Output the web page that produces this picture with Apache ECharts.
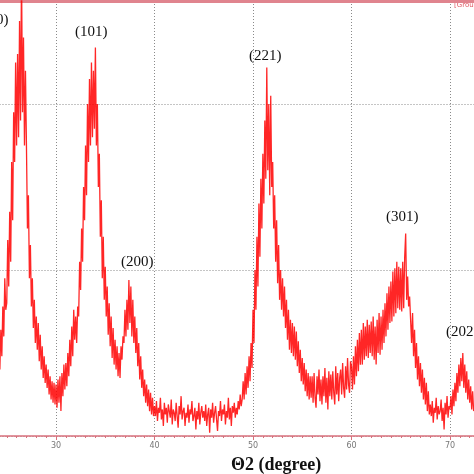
<!DOCTYPE html>
<html>
<head>
<meta charset="utf-8">
<script src="https://cdn.jsdelivr.net/npm/echarts/dist/echarts.min.js"></script>
<style>
  html, body { margin: 0; padding: 0; background: #fff; }
  #main { width: 474px; height: 474px; }
</style>
</head>
<body>
<div id="main"></div>
<script>
// 2-theta sampling of the scan (degrees)
var angleStart = 24.3;
var angleStep = 0.1;
var xTicks = [20, 30, 40, 50, 60, 70, 80];
var yTicks = [0, 1000, 2000];

// intensity, one row per degree
var intensity24to31 = [
  400, 640, 480, 780, 600, 950, 760,
  800, 1180, 900, 1350, 1050, 1650, 1300, 1950, 1650, 2250,
  1750, 2300, 1800, 2500, 1900, 2800, 1950, 2400, 1750, 2200,
  1750, 1250, 1450, 950, 1150, 780, 950, 650, 820, 560,
  720, 520, 680, 450, 610, 400, 540, 350, 480, 320,
  430, 290, 400, 250, 360, 220, 330, 200, 320, 190,
  310, 170, 340, 200, 360, 150, 380, 240, 430, 280,
  440, 300, 500, 360, 580, 420, 660, 480, 760, 580
];
var intensity32to39 = [
  720, 560, 780, 720, 1050, 880, 1250, 1050, 1500, 1300,
  1750, 1450, 2000, 1650, 2150, 1750, 2250, 1800, 2200, 1850,
  2340, 1750, 2000, 1500, 1700, 1200, 1420, 950, 1200, 820,
  1020, 720, 900, 610, 800, 540, 720, 470, 650, 430,
  580, 400, 540, 360, 500, 350, 540, 460, 600, 560,
  760, 600, 820, 640, 940, 680, 900, 600, 820, 560,
  720, 500, 650, 420, 560, 340, 480, 290, 400, 240,
  340, 200, 310, 180, 280, 150, 260, 130, 230, 120
];
var intensity40to48 = [
  180, 120, 210, 90, 170, 140, 230, 100, 160, 60,
  200, 130, 170, 80, 190, 150, 110, 220, 70, 160,
  140, 90, 200, 120, 50, 180, 130, 240, 100, 150,
  170, 60, 140, 110, 190, 80, 160, 130, 210, 90,
  120, 170, 40, 150, 100, 200, 70, 140, 180, 110,
  150, 90, 190, 60, 130, 170, 20, 160, 110, 200,
  80, 140, 180, 100, 30, 150, 120, 210, 90, 160,
  130, 190, 70, 150, 110, 230, 100, 170, 60, 180,
  140, 200, 110, 170, 130, 210, 160, 250, 180, 220
];
var intensity49to55 = [
  330, 220, 380, 250, 420, 290, 480, 330, 560, 410,
  760, 560, 1000, 760, 1200, 900, 1400, 1080, 1550, 1250,
  1700, 1400, 1900, 1550, 2220, 1600, 2000, 1450, 2050, 1500,
  1650, 1250, 1450, 1050, 1300, 920, 1150, 820, 1000, 760,
  950, 720, 900, 650, 820, 580, 760, 520, 700, 500,
  680, 480, 660, 460, 630, 420, 570, 380, 520, 330,
  470, 310, 440, 270, 400, 240, 380, 220, 360, 230
];
var intensity56to63 = [
  360, 200, 380, 230, 170, 360, 250, 400, 210, 340,
  190, 360, 240, 410, 200, 350, 160, 390, 240, 370,
  220, 390, 260, 190, 420, 250, 380, 210, 350, 400,
  250, 440, 290, 230, 420, 280, 470, 310, 260, 450,
  420, 280, 480, 310, 540, 360, 580, 390, 620, 430,
  640, 430, 680, 460, 660, 480, 700, 470, 670, 500,
  690, 480, 720, 460, 660, 430, 700, 500, 740, 490,
  720, 520, 760, 560, 800, 600, 860, 640, 900, 680
];
var intensity64to72 = [
  930, 690, 990, 720, 1010, 740, 1050, 770, 1020, 760,
  1010, 750, 1050, 770, 1080, 1220, 820, 960, 780, 840,
  830, 560, 740, 480, 640, 410, 560, 340, 480, 300,
  440, 260, 400, 220, 350, 190, 320, 150, 270, 130,
  190, 120, 210, 80, 170, 140, 230, 100, 180, 130,
  150, 220, 90, 170, 40, 200, 130, 240, 110, 180,
  160, 240, 130, 280, 180, 320, 210, 380, 260, 430,
  300, 470, 330, 500, 290, 430, 260, 390, 220, 340,
  200, 300, 160, 270, 150
];

var peakNames = ['(100)', '(101)', '(200)', '(221)', '(301)', '(202)'];

var intensity = [].concat(intensity24to31, intensity32to39, intensity40to48,
  intensity49to55, intensity56to63, intensity64to72);

var scan = intensity.map(function (v, i) {
  return [Math.round((angleStart + i * angleStep) * 10) / 10, v];
});

window.onload = function () {
  var chartDom = document.getElementById('main');
  var myChart = echarts.init(chartDom);
  var axisRed = '#d9707c';
  var labelFont = 'Liberation Serif';
  var gridDots = { type: [1, 2], color: '#8a8a8a', width: 1 };
  var option;

  option = {
    animation: false,
    grid: {
      left: -42.5,
      right: -74.5,
      top: 1,
      bottom: 38,
      containLabel: false,
      outerBoundsMode: 'none'
    },
    xAxis: [
      {
        type: 'value',
        position: 'bottom',
        min: xTicks[0],
        max: xTicks[xTicks.length - 1],
        interval: 10,
        axisLine: { lineStyle: { color: axisRed, width: 1.5 } },
        axisTick: { length: 4, lineStyle: { color: axisRed } },
        minorTick: { show: true, splitNumber: 10, length: 2, lineStyle: { color: axisRed } },
        axisLabel: { fontSize: 8, color: '#777', margin: 6, fontFamily: 'DejaVu Sans' },
        splitLine: { show: true, lineStyle: gridDots }
      },
      {
        type: 'value',
        position: 'top',
        min: xTicks[0],
        max: xTicks[xTicks.length - 1],
        axisLine: { lineStyle: { color: '#e0848e', width: 3 } },
        axisTick: { show: false },
        axisLabel: { show: false },
        splitLine: { show: false }
      }
    ],
    yAxis: {
      type: 'value',
      min: yTicks[0],
      max: 2620,
      interval: 1000,
      axisLine: { show: false },
      axisTick: { show: false },
      axisLabel: { show: false },
      splitLine: { show: true, lineStyle: gridDots }
    },
    series: [
      {
        name: 'Group1',
        type: 'line',
        data: scan,
        symbol: 'none',
        sampling: false,
        clip: true,
        lineStyle: { color: '#ff0000', width: 1.3, opacity: 0.85 }
      }
    ],
    graphic: [
      { type: 'text', left: -24, top: 13, style: { text: peakNames[0], font: '15px ' + labelFont, fill: '#111' } },
      { type: 'text', left: 75, top: 25, style: { text: peakNames[1], font: '15px ' + labelFont, fill: '#111' } },
      { type: 'text', left: 121, top: 255, style: { text: peakNames[2], font: '15px ' + labelFont, fill: '#111' } },
      { type: 'text', left: 249, top: 49, style: { text: peakNames[3], font: '15px ' + labelFont, fill: '#111' } },
      { type: 'text', left: 386, top: 210, style: { text: peakNames[4], font: '15px ' + labelFont, fill: '#111' } },
      { type: 'text', left: 446, top: 325, style: { text: peakNames[5], font: '15px ' + labelFont, fill: '#111' } },
      { type: 'text', left: 454, top: 2, style: { text: '[Group1]', font: '7px DejaVu Sans', fill: '#e05a66' } },
      { type: 'text', left: 231, top: 456, style: { text: '\u03982 (degree)', font: 'bold 18px ' + labelFont, fill: '#111' } }
    ]
  };
  option && myChart.setOption(option);
};
</script>
</body>
</html>
